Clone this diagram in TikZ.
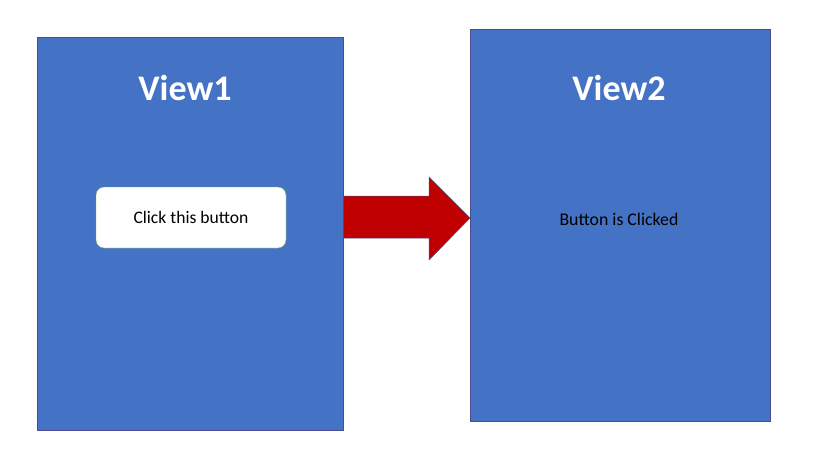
\documentclass[tikz,border=0pt]{standalone}
\usepackage{fontspec}
\setmainfont{Carlito}
\begin{document}
\begin{tikzpicture}[x=1pt,y=-1pt,
  view/.style={draw=blue!40!black!70, fill=viewblue, line width=0.6pt},
  title/.style={text=white, font=\fontsize{36}{40}\selectfont\bfseries}]
\definecolor{viewblue}{HTML}{4472C4}
\definecolor{arrred}{HTML}{C00000}
\definecolor{btngreen}{HTML}{70AD47}
\useasboundingbox (0,0) rectangle (831,469);
\fill[white] (0,0) rectangle (831,469);
\node[view, minimum width=306, minimum height=393, anchor=north west] (v1) at (37,37) {};
\node[view, minimum width=300, minimum height=392, anchor=north west] (v2) at (470,29) {};
\node[title] (t1) at (185,88) {View1};
\node[title] (t2) at (619,88) {View2};
\node[draw=btngreen, fill=white, rounded corners=8pt, minimum width=190, minimum height=61, font=\fontsize{17.6}{20}\selectfont] (b) at (191,217.5) {Click this button};
\node[font=\fontsize{17.8}{20}\selectfont] (c) at (619,219) {Button is Clicked};
\draw[fill=arrred, draw=blue!30!black!70, line width=0.5pt]
  (v1.east |- 0,196) -- (429,196) -- (429,177) -- (v2.west |- 0,218) -- (429,260) -- (429,238) -- (v1.east |- 0,238) -- cycle;
\end{tikzpicture}
\end{document}
